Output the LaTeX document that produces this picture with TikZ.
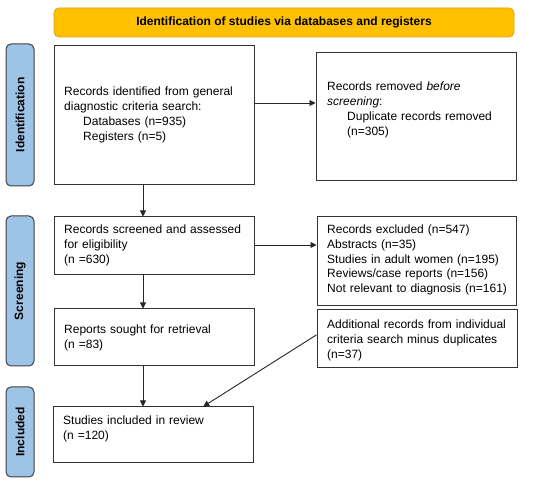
\documentclass[tikz,border=0pt]{standalone}
\usepackage{fontspec}
\setmainfont{Liberation Sans}
\usetikzlibrary{arrows.meta,calc}
\definecolor{hdfill}{HTML}{FFC000}
\definecolor{hddraw}{HTML}{D9A400}
\definecolor{sidefill}{HTML}{9DC3E6}
\definecolor{sidedraw}{HTML}{404040}
\definecolor{boxdraw}{HTML}{333333}
\tikzset{
  box/.style={draw=boxdraw, line width=1pt, fill=white, inner sep=0pt},
  header/.style={draw=hddraw, fill=hdfill, line width=0.8pt, rounded corners=5pt, inner sep=0pt,
    font=\fontsize{12}{14}\selectfont\bfseries},
  side/.style={draw=sidedraw, fill=sidefill, line width=1pt, rounded corners=5pt, inner sep=0pt},
  sidetxt/.style={rotate=90, font=\fontsize{12}{14}\selectfont\bfseries, inner sep=0pt},
  txt/.style={anchor=base west, inner sep=0pt, text width=195pt, align=left,
    font=\fontsize{12}{14.8}\selectfont},
  arr/.style={draw=black!85, line width=0.9pt, -{Triangle[length=6pt,width=6pt]}}
}
\begin{document}
\begin{tikzpicture}[x=1pt,y=-1pt]
\useasboundingbox (0,0) rectangle (550,484);
% header
\node[header, minimum width=460pt, minimum height=29pt] (hd) at (284,22.5)
  {Identification of studies via databases and registers};
% side labels
\node[side, minimum width=28pt, minimum height=142pt] (s1) at (20,115) {};
\node[sidetxt] (s1t) at (s1.center) {Identification};
\node[side, minimum width=28pt, minimum height=150pt] (s2) at (20,291) {};
\node[sidetxt] (s2t) at (s2.center) {Screening};
\node[side, minimum width=28pt, minimum height=90pt] (s3) at (20,432) {};
\node[sidetxt] (s3t) at (s3.center) {Included};
% boxes
\node[box, minimum width=200pt, minimum height=139pt] (b1) at (154,115.5) {};
\node[box, minimum width=200pt, minimum height=128pt] (b2) at (416,117) {};
\node[box, minimum width=200pt, minimum height=58pt] (b3) at (154,246) {};
\node[box, minimum width=199pt, minimum height=89pt] (b4) at (416.5,261.5) {};
\node[box, minimum width=200pt, minimum height=57pt] (b5) at (154,337.5) {};
\node[box, minimum width=200pt, minimum height=58pt] (b6) at (417,339) {};
\node[box, minimum width=200pt, minimum height=56pt] (b7) at (153,435) {};
% texts
\node[txt] (t1) at (64,96) {Records identified from general\\diagnostic criteria search:\\\hspace*{19pt}Databases (n=935)\\\hspace*{19pt}Registers (n=5)};
\node[txt] (t2) at (327,91) {Records removed \textit{before}\\\textit{screening}:\\\hspace*{20pt}Duplicate records removed\\\hspace*{20pt}(n=305)};
\node[txt] (t3) at (64,233.5) {Records screened and assessed\\for eligibility\\(n =630)};
\node[txt] (t4) at (327,233.5) {Records excluded (n=547)\\Abstracts (n=35)\\Studies in adult women (n=195)\\Reviews/case reports (n=156)\\Not relevant to diagnosis (n=161)};
\node[txt] (t5) at (64,334) {Reports sought for retrieval\\(n =83)};
\node[txt] (t6) at (327,329) {Additional records from individual\\criteria search minus duplicates\\(n=37)};
\node[txt] (t7) at (63,424.5) {Studies included in review\\(n =120)};
% connectors
\draw[arr] (b1.east |- 0,103) -- (b2.west |- 0,103);
\draw[arr] (b3.east |- 0,245) -- (b4.west |- 0,245);
\draw[arr] (b1.south -| 143,0) -- (b3.north -| 143,0);
\draw[arr] (b3.south -| 143,0) -- (b5.north -| 143,0);
\draw[arr] (b5.south -| 143,0) -- (b7.north -| 143,0);
\draw[arr] ($(b6.north west)!0.43!(b6.south west)$) -- ($(b7.north west)!0.75!(b7.north east)$);
\end{tikzpicture}
\end{document}
